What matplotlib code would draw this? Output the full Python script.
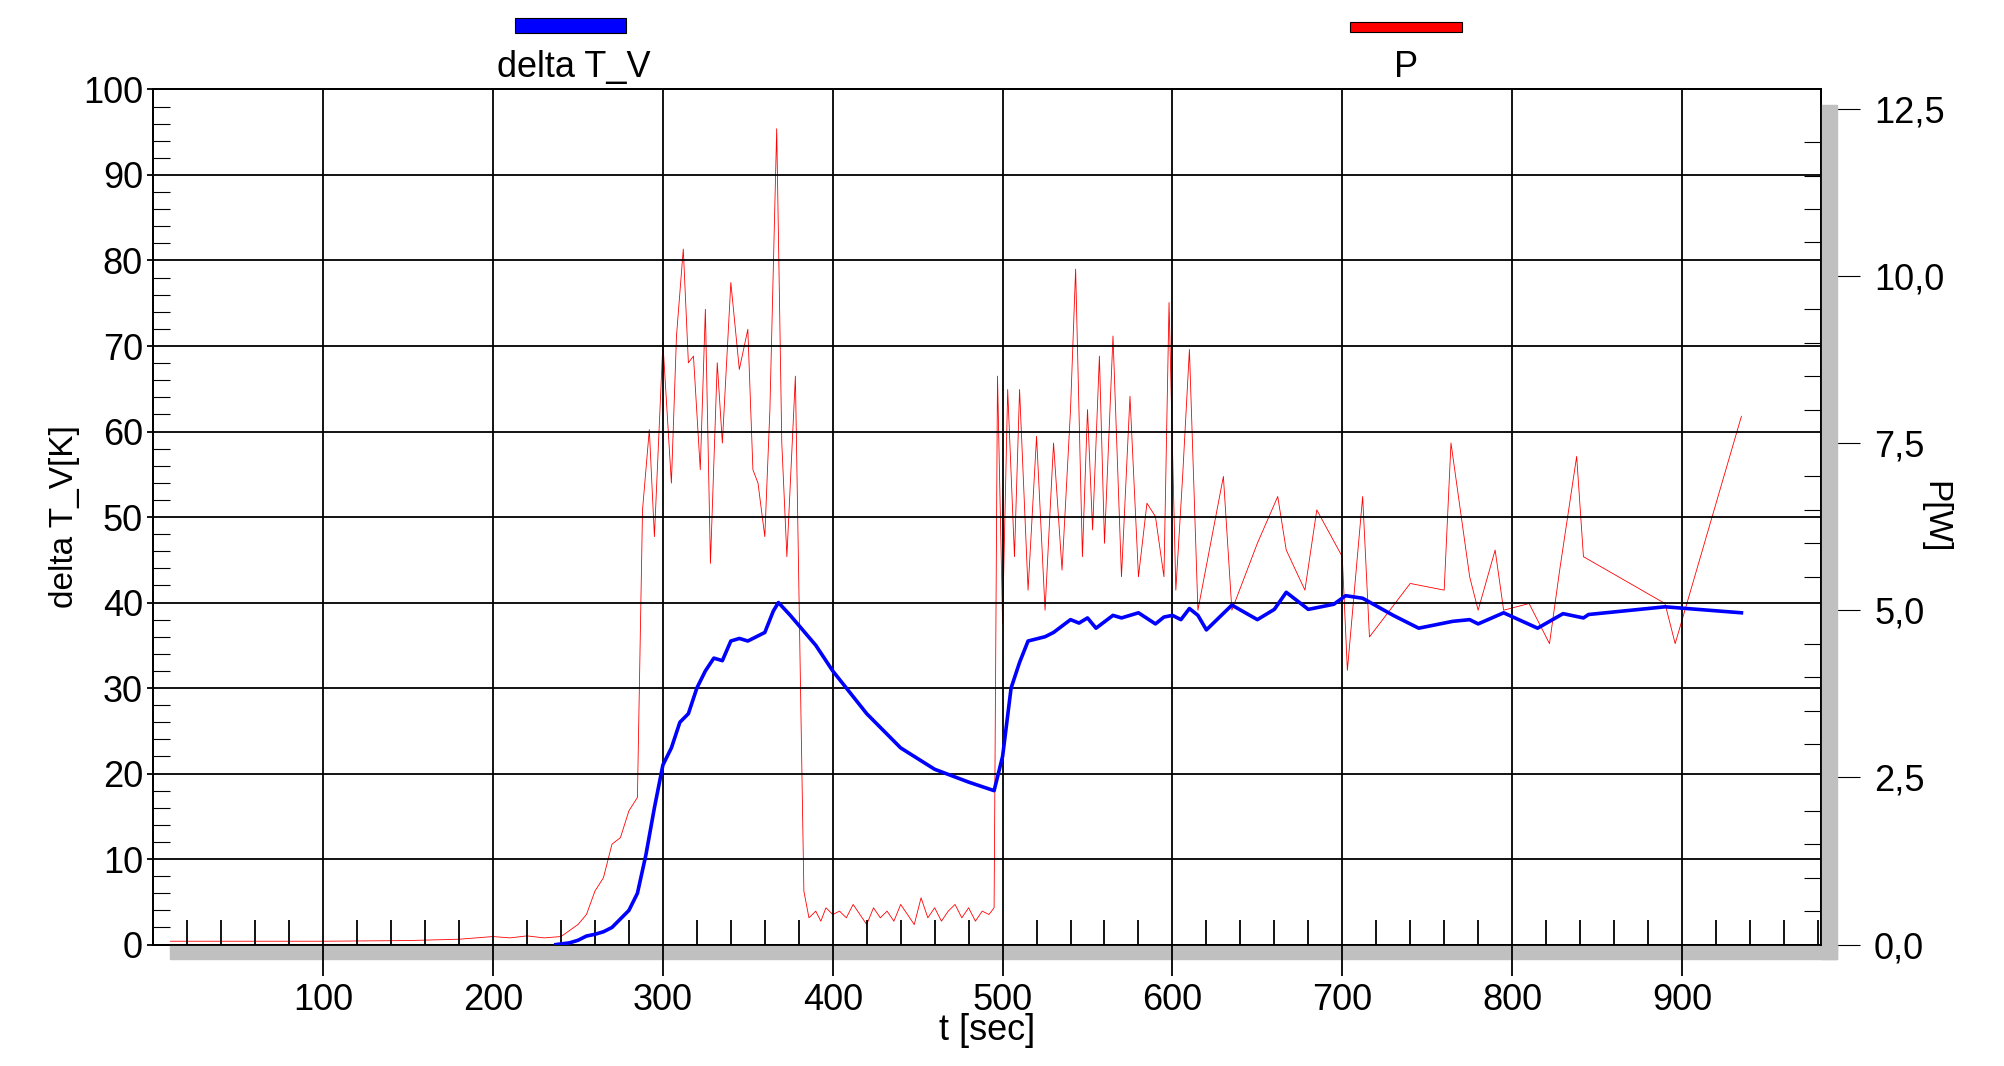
import numpy as np
import matplotlib.pyplot as plt
from matplotlib.patches import Rectangle
from matplotlib.ticker import MultipleLocator, FuncFormatter

plt.rcParams['font.family'] = ['Liberation Sans', 'DejaVu Sans']

# delta T_V [K], left axis
t_dt = [237, 245, 250, 255, 260, 265, 270, 275, 280, 285, 290, 295, 300, 305, 310, 315, 320,
        325, 330, 335, 340, 345, 350, 355, 360, 365, 368, 375, 390, 400, 420, 440, 460, 480,
        495, 500, 505, 510, 515, 525, 530, 540, 545, 550, 555, 565, 570, 580, 590, 595, 600,
        605, 610, 615, 620, 635, 650, 660, 667, 680, 695, 702, 712, 730, 745, 765, 775, 780,
        795, 815, 830, 842, 845, 890, 935]
dt = [0.0, 0.2, 0.5, 1.0, 1.2, 1.5, 2.0, 3.0, 4.0, 6.0, 10.5, 16, 21, 23, 26, 27, 30,
      32, 33.5, 33.2, 35.5, 35.8, 35.5, 36, 36.5, 39.0, 40.0, 38.5, 35, 32, 27, 23, 20.5, 19,
      18, 22, 30, 33, 35.5, 36, 36.5, 38, 37.6, 38.2, 37.0, 38.5, 38.2, 38.8, 37.5, 38.3, 38.5,
      38.0, 39.3, 38.5, 36.8, 39.7, 38.0, 39.2, 41.2, 39.2, 39.8, 40.8, 40.5, 38.5, 37.0, 37.8, 38.0, 37.5,
      38.8, 37.0, 38.7, 38.2, 38.6, 39.5, 38.8]

# P [W], right axis
t_p = [10, 50, 100, 150, 180, 200, 210, 220, 230, 240, 250, 255, 260, 265, 270, 275, 280, 285,
       288, 292, 295, 300, 305, 308, 312, 315, 318, 322, 325, 328, 332, 335, 340, 345, 350,
       353, 356, 360, 363, 367, 370, 373, 378, 383,
       386, 390, 393, 396, 400, 404, 408, 412, 416, 420, 424, 428, 432, 436, 440, 444, 448,
       452, 456, 460, 464, 468, 472, 476, 480, 484, 488, 492, 495,
       497, 500, 503, 507, 510, 515, 520, 525, 530, 535, 540, 543, 547, 550, 553, 557, 560,
       565, 570, 575, 580, 585, 590, 595, 598, 602, 606, 610, 615, 630, 635, 650, 662, 667,
       678, 685, 700, 703, 712, 716, 740, 760, 764, 775, 780, 790, 795, 810, 822, 828, 838,
       842, 890, 896, 935]
p = [0.05, 0.05, 0.05, 0.06, 0.08, 0.12, 0.1, 0.13, 0.1, 0.12, 0.3, 0.45, 0.8, 1.0, 1.5, 1.6, 2.0, 2.2,
     6.5, 7.7, 6.1, 9.0, 6.9, 9.1, 10.4, 8.7, 8.8, 7.1, 9.5, 5.7, 8.7, 7.5, 9.9, 8.6, 9.2,
     7.1, 6.9, 6.1, 8.0, 12.2, 7.5, 5.8, 8.5, 0.8,
     0.4, 0.5, 0.35, 0.55, 0.45, 0.5, 0.4, 0.6, 0.45, 0.3, 0.55, 0.4, 0.5, 0.35, 0.6, 0.45, 0.3,
     0.7, 0.4, 0.55, 0.35, 0.5, 0.6, 0.4, 0.55, 0.35, 0.5, 0.45, 0.55,
     8.5, 4.8, 8.3, 5.8, 8.3, 5.3, 7.6, 5.0, 7.5, 5.6, 8.0, 10.1, 5.8, 8.0, 6.2, 8.8, 6.0,
     9.1, 5.5, 8.2, 5.5, 6.6, 6.4, 5.5, 9.6, 5.3, 7.0, 8.9, 5.0, 7.0, 5.0, 6.0, 6.7, 5.9,
     5.3, 6.5, 5.8, 4.1, 6.7, 4.6, 5.4, 5.3, 7.5, 5.5, 5.0, 5.9, 5.0, 5.1, 4.5, 5.6, 7.3,
     5.8, 5.1, 4.5, 7.9]

fig = plt.figure(figsize=(20.04, 10.66), dpi=100)
W, H = 1568.0, 834.0
ax = fig.add_axes([120 / W, 1 - 739 / H, 1305 / W, 669 / H])
ax2 = ax.twinx()

# grey shadow under / right of the plot frame
fig.patches.append(Rectangle((133 / W, 1 - 750 / H), 1304 / W, 11 / H, transform=fig.transFigure,
                             color='#c0c0c0', zorder=0))
fig.patches.append(Rectangle((1425 / W, 1 - 750 / H), 12 / W, 668 / H, transform=fig.transFigure,
                             color='#c0c0c0', zorder=0))

ax.set_xlim(0, 982)
ax.set_ylim(0, 100)
ax2.set_ylim(0, 12.5 * 669 / 654)

ax.grid(True, which='major', color='black', lw=1.3)
ax.xaxis.set_major_locator(MultipleLocator(100))
ax.xaxis.set_minor_locator(MultipleLocator(20))
ax.yaxis.set_major_locator(MultipleLocator(10))
ax.yaxis.set_minor_locator(MultipleLocator(2))
ax.set_xticks([100, 200, 300, 400, 500, 600, 700, 800, 900])
ax.tick_params(axis='x', which='major', direction='out', length=22, width=1.3, labelsize=26, pad=6)
ax.tick_params(axis='x', which='minor', direction='in', length=18, width=1.3)
ax.tick_params(axis='y', which='major', direction='out', length=4, width=1.3, labelsize=26)
ax.tick_params(axis='y', which='minor', direction='in', length=12, width=0.8)

ax2.yaxis.set_major_locator(MultipleLocator(2.5))
ax2.yaxis.set_minor_locator(MultipleLocator(0.5))
ax2.yaxis.set_major_formatter(FuncFormatter(lambda v, pos: f"{v:.1f}".replace('.', ',')))
ax2.tick_params(axis='y', which='major', direction='out', length=28, width=0.8, labelsize=26, pad=10)
ax2.tick_params(axis='y', which='minor', direction='in', length=12, width=0.8)

for a in (ax, ax2):
    for s in a.spines.values():
        s.set_linewidth(1.3)

ax2.plot(t_p, p, color='red', lw=0.6, zorder=2)
ax.plot(t_dt, dt, color='#0000ff', lw=2.6, zorder=3)
ax.set_zorder(ax2.get_zorder() + 1)
ax.patch.set_visible(False)

ax.set_xlabel('t [sec]', fontsize=26, labelpad=-4)
ax.set_ylabel('delta T_V[K]', fontsize=24, labelpad=2)
ax2.set_ylabel('P[W]', fontsize=24, rotation=-90, labelpad=4)

# legend boxes at top
fig.patches.append(Rectangle((403 / W, 1 - 26 / H), 87 / W, 12 / H, transform=fig.transFigure,
                             facecolor='#0000ff', edgecolor='black', lw=0.8))
fig.patches.append(Rectangle((1056 / W, 1 - 25 / H), 88 / W, 8 / H, transform=fig.transFigure,
                             facecolor='red', edgecolor='black', lw=0.8))
fig.text(449 / W, 1 - 53 / H, 'delta T_V', fontsize=26, ha='center', va='center')
fig.text(1100 / W, 1 - 53 / H, 'P', fontsize=26, ha='center', va='center')

fig.savefig('out.png', dpi=100)
